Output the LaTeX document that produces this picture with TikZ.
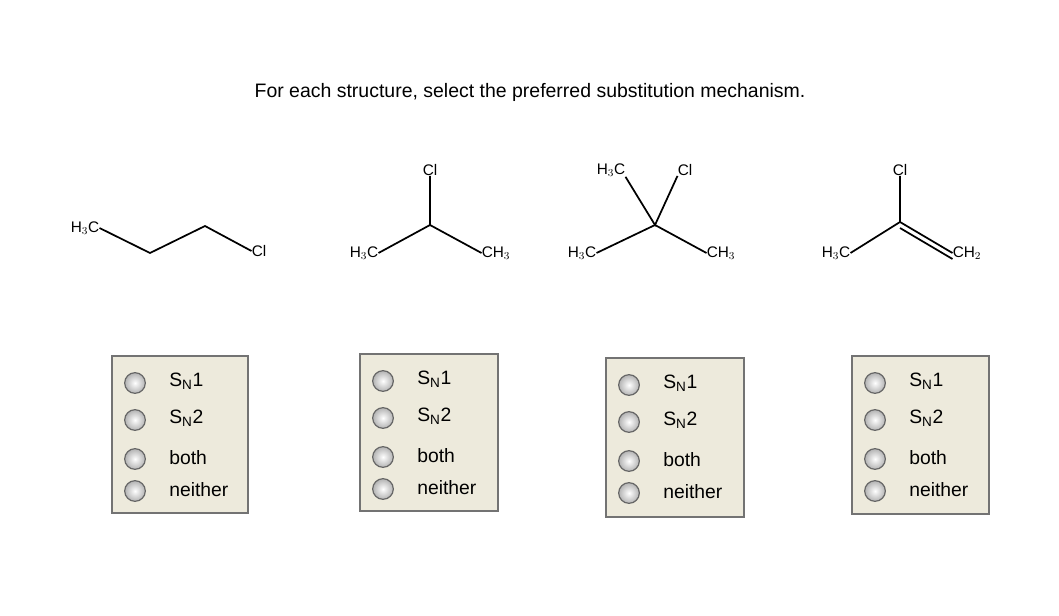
\documentclass[tikz,border=0pt]{standalone}
\usepackage{fontspec}
\setmainfont{Liberation Sans}
\definecolor{boxfill}{HTML}{EDEADC}
\begin{document}
\begin{tikzpicture}[x=0.75pt,y=-0.75pt,
  bond/.style={line width=1.3pt},
  atom/.style={inner sep=0pt,font=\fontsize{11.5}{13}\selectfont},
  optbox/.style={draw=black!55,line width=1.4pt,fill=boxfill,inner sep=0pt},
  radio/.style={circle,draw=black!60,line width=0.9pt,inner color=white,outer color=black!30,minimum size=15.5pt,inner sep=0pt},
  opt/.style={anchor=west,inner sep=0pt,font=\fontsize{14.5}{16}\selectfont}]
\useasboundingbox (0,0) rectangle (1059,616);
\node[inner sep=0pt,font=\fontsize{14.6}{17}\selectfont] (title) at (530,92) {For each structure, select the preferred substitution mechanism.};
% mol1
\node[atom] (a1) at (85,228) {H$_3$C};
\coordinate (a2) at (150,253); \coordinate (a3) at (205,226);
\node[atom] (a4) at (259,251) {Cl};
\draw[bond] (a1.east) -- (a2) -- (a3) -- (a4.west);
% mol2
\node[atom] (b1) at (430,170) {Cl};
\coordinate (b0) at (430,225);
\node[atom] (b2) at (364,253) {H$_3$C};
\node[atom] (b3) at (496,253) {CH$_3$};
\draw[bond] (b1.south) -- (b0) -- (b2.east); \draw[bond] (b0) -- (b3.west);
% mol3
\coordinate (c0) at (655,225);
\node[atom] (c1) at (611,170) {H$_3$C};
\node[atom] (c2) at (685,170) {Cl};
\node[atom] (c3) at (582,253) {H$_3$C};
\node[atom] (c4) at (721,253) {CH$_3$};
\draw[bond] (c1.south east) -- (c0) -- (c2.south west);
\draw[bond] (c3.east) -- (c0) -- (c4.west);
% mol4
\coordinate (d0) at (900,222);
\node[atom] (d1) at (900,170) {Cl};
\node[atom] (d2) at (836,253) {H$_3$C};
\node[atom] (d3) at (967,253) {CH$_2$};
\draw[bond] (d1.south) -- (d0) -- (d2.east);
\draw[bond] (d0) -- (d3.west);
\draw[bond] ([yshift=-4.5]d0) -- ([yshift=-4.5]d3.west);
% boxes
\foreach \n/\bx/\by/\ex/\ey in {1/112/356/248/513,2/360/354/498/511,3/606/358/744/517,4/852/356/989/514}{
  \draw[optbox] (\bx,\by) rectangle (\ex,\ey);
  \node[radio] (r\n a) at (\bx+23,\by+27) {};
  \node[radio] (r\n b) at (\bx+23,\by+64) {};
  \node[radio] (r\n c) at (\bx+23,\by+103) {};
  \node[radio] (r\n d) at (\bx+23,\by+135) {};
  \node[opt] (t\n a) at (\bx+57,\by+25) {S\textsubscript{N}1};
  \node[opt] (t\n b) at (\bx+57,\by+62) {S\textsubscript{N}2};
  \node[opt] (t\n c) at (\bx+57,\by+102) {both};
  \node[opt] (t\n d) at (\bx+57,\by+134) {neither};
}
\end{tikzpicture}
\end{document}
